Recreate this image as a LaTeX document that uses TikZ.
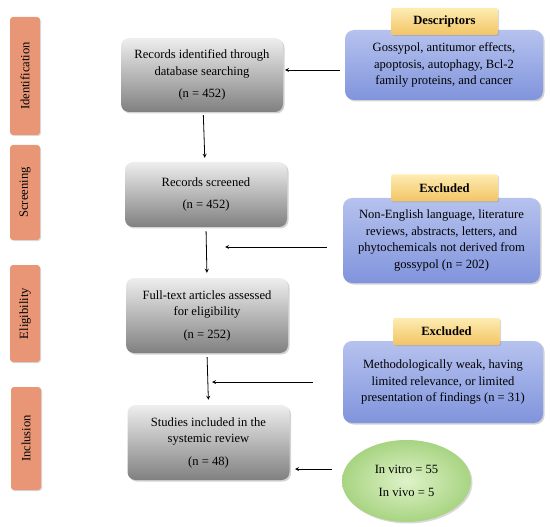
\documentclass[tikz,border=0pt]{standalone}
\usepackage{fontspec}
\setmainfont{Liberation Serif}
\usetikzlibrary{shapes.geometric, arrows, shadows}
\definecolor{grayhi}{RGB}{238,238,238}
\definecolor{graymid}{RGB}{172,172,172}
\definecolor{graylo}{RGB}{128,128,128}
\definecolor{bluehi}{RGB}{182,194,238}
\definecolor{bluelo}{RGB}{128,148,220}
\definecolor{tabhi}{RGB}{253,236,178}
\definecolor{tablo}{RGB}{242,196,100}
\definecolor{salmonhi}{RGB}{250,208,186}
\definecolor{salmonlo}{RGB}{232,150,118}
\definecolor{greenhi}{RGB}{222,242,200}
\definecolor{greenlo}{RGB}{168,212,130}
\tikzstyle{process} = [rectangle, rounded corners=8pt, minimum width=162pt, minimum height=74pt, text centered, align=center, top color=grayhi, middle color=graymid, bottom color=graylo, drop shadow={opacity=0.35, shadow xshift=1.5pt, shadow yshift=-1.5pt}]
\tikzstyle{stage} = [rectangle, rounded corners=3pt, rotate=90, minimum height=30pt, text centered, top color=salmonlo, middle color=salmonhi, bottom color=salmonlo, drop shadow={opacity=0.3, shadow xshift=1pt, shadow yshift=-1pt}]
\tikzstyle{info} = [rectangle, rounded corners=9pt, minimum width=198pt, text centered, align=center, top color=bluehi, bottom color=bluelo, drop shadow={opacity=0.35, shadow xshift=1.5pt, shadow yshift=-1.5pt}]
\tikzstyle{tab} = [rectangle, rounded corners=2pt, minimum width=107pt, minimum height=27pt, text centered, font=\fontsize{12.6}{16.5}\selectfont\bfseries, top color=tabhi, bottom color=tablo, drop shadow={opacity=0.3, shadow xshift=1pt, shadow yshift=-1pt}]
\tikzstyle{result} = [ellipse, minimum width=129pt, minimum height=82pt, text centered, align=center, inner color=greenhi, outer color=greenlo, drop shadow={opacity=0.3, shadow xshift=1.5pt, shadow yshift=-1.5pt}]
\tikzstyle{arrow} = [thick,->,>=stealth]

\begin{document}
\begin{tikzpicture}[x=1pt, y=-1pt, node distance=121pt, font=\fontsize{12.6}{16.5}\selectfont]
\useasboundingbox (0,0) rectangle (550,527);

% stages
\node (sid) [stage, minimum width=118pt] at (25,76) {Identification};
\node (sscr) [stage, minimum width=95pt] at (25,192.5) {Screening};
\node (selig) [stage, minimum width=97pt] at (25,313.5) {Eligibility};
\node (sincl) [stage, minimum width=103pt] at (26,438.5) {Inclusion};

% main column
\node (ident) [process] at (202,75) {Records identified through\\database searching\\[6pt](n = 452)};
\node (screen) [process, below of=ident, xshift=4pt, yshift=1.5pt, minimum height=65pt] {Records screened\\[6pt](n = 452)};
\node (elig) [process, below of=screen, xshift=1pt, minimum height=75pt] {Full-text articles assessed\\for eligibility\\[6pt](n = 252)};
\node (incl) [process, below of=elig, xshift=1.5pt, yshift=-6pt, minimum height=75pt] {Studies included in the\\systemic review\\[6pt](n = 48)};

% side boxes
\node (desc) [info, minimum height=70pt] at (444,65) {Gossypol, antitumor effects,\\apoptosis, autophagy, Bcl-2\\family proteins, and cancer};
\node (tdesc) [tab] at (444.5,21.5) {Descriptors};
\node (excl) [info, minimum height=85pt, minimum width=197pt] at (441.5,240.5) {Non-English language, literature\\reviews, abstracts, letters, and\\phytochemicals not derived from\\gossypol (n = 202)};
\node (texcl) [tab] at (444.5,188) {Excluded};
\node (weak) [info, minimum height=82pt, minimum width=200pt] at (443,382) {Methodologically weak, having\\limited relevance, or limited\\presentation of findings (n = 31)};
\node (tweak) [tab] at (446.5,331.5) {Excluded};
\node (vivo) [result] at (406.5,481) {In vitro = 55\\[7pt]In vivo = 5};

\coordinate (j0) at (285,70);
\coordinate (j1) at (225,247);
\coordinate (j2) at (212,382);
\coordinate (j3) at (295,469);

\draw [arrow, shorten <=3pt, shorten >=4pt] (ident) -- (screen);
\draw [arrow, shorten <=4pt, shorten >=5pt] (screen.south) -- (elig.north);
\draw [arrow, shorten <=4pt, shorten >=5pt] (elig.south) -- (incl.north);
\draw [arrow, shorten <=5pt] (desc.west |- j0) -- (j0);
\draw [arrow, shorten <=16pt] (excl.west |- j1) -- (j1);
\draw [arrow, shorten <=30pt] (weak.west |- j2) -- (j2);
\draw [arrow, shorten <=10pt] (vivo.west |- j3) -- (j3);

\end{tikzpicture}
\end{document}
